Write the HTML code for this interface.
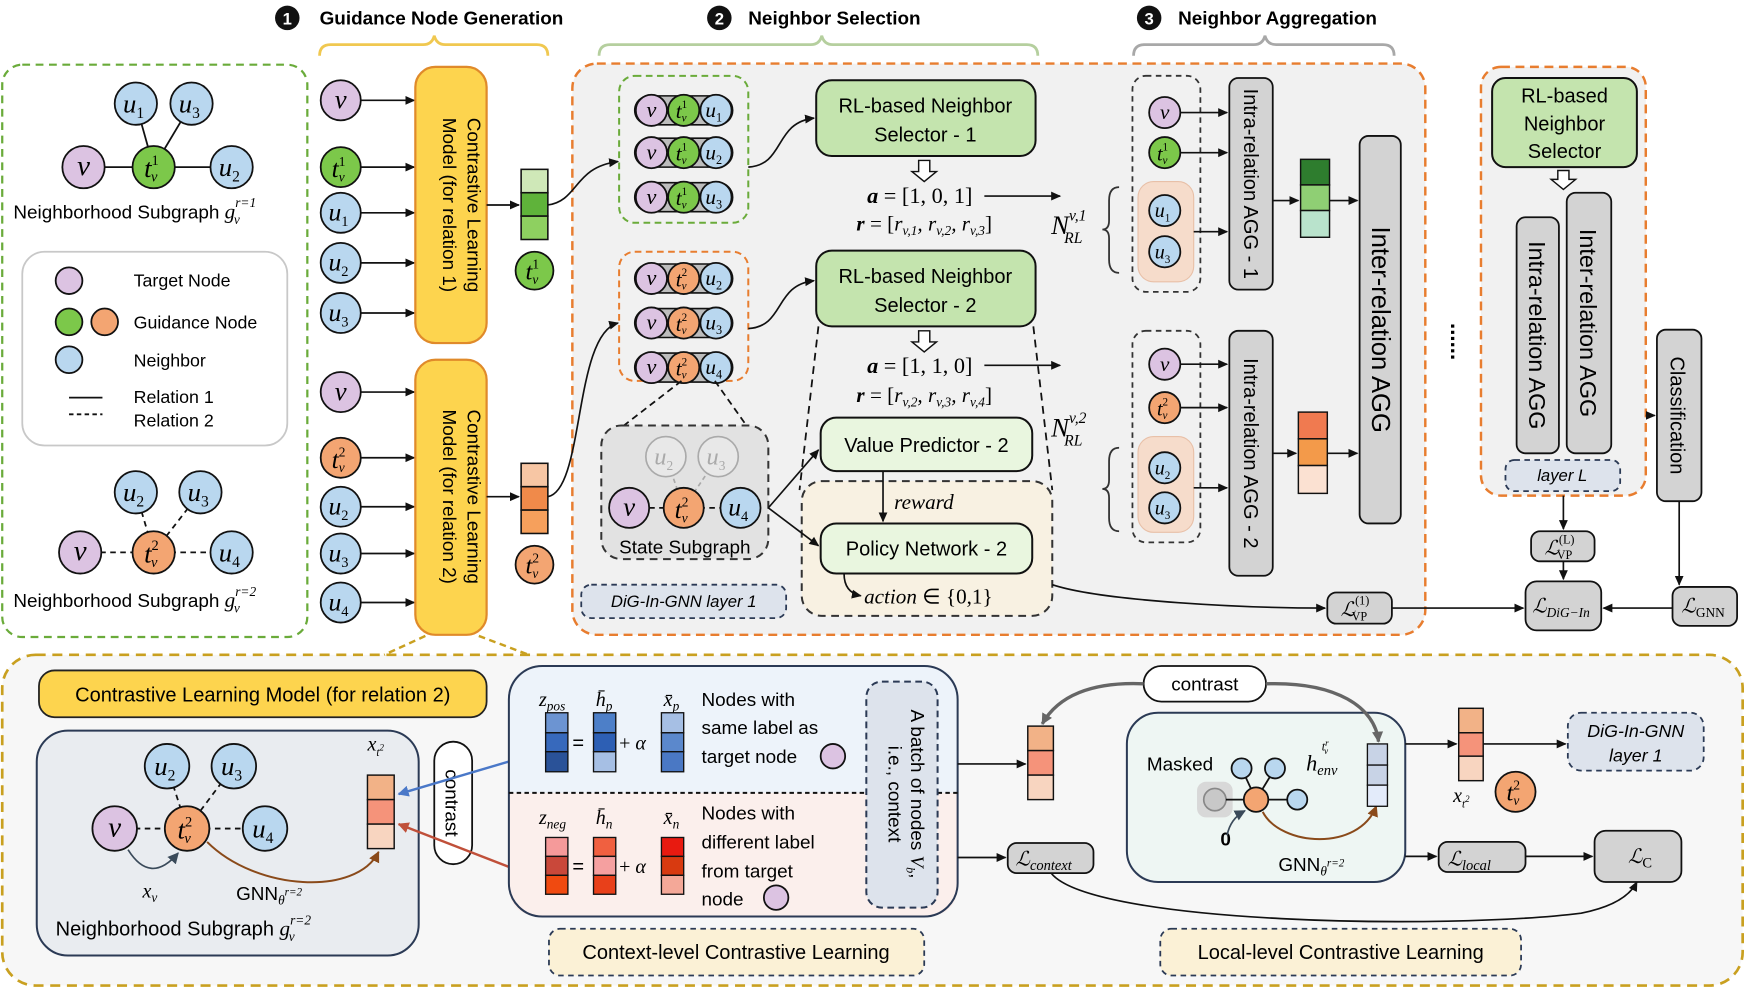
<!DOCTYPE html>
<html><head><meta charset="utf-8"><style>
html,body{margin:0;padding:0;background:#fff}
svg{display:block}
.s{font-family:"Liberation Sans",sans-serif}
.m{font-family:"Liberation Serif",serif;font-style:italic}
</style></head><body>
<svg width="1746" height="989" viewBox="0 0 1568 888" xmlns="http://www.w3.org/2000/svg">
<defs>
<marker id="a" markerWidth="10" markerHeight="10" refX="8" refY="5" orient="auto" markerUnits="userSpaceOnUse"><path d="M0,1 L9,5 L0,9 z" fill="#111"/></marker>
<marker id="ag" markerWidth="12" markerHeight="12" refX="9" refY="6" orient="auto" markerUnits="userSpaceOnUse"><path d="M0,1 L10,6 L0,11 z" fill="#666"/></marker>
<marker id="ab" markerWidth="12" markerHeight="12" refX="9" refY="6" orient="auto" markerUnits="userSpaceOnUse"><path d="M0,1 L10,6 L0,11 z" fill="#4a78c8"/></marker>
<marker id="ar" markerWidth="12" markerHeight="12" refX="9" refY="6" orient="auto" markerUnits="userSpaceOnUse"><path d="M0,1 L10,6 L0,11 z" fill="#c0503a"/></marker>
<marker id="abr" markerWidth="12" markerHeight="12" refX="9" refY="6" orient="auto" markerUnits="userSpaceOnUse"><path d="M0,1 L10,6 L0,11 z" fill="#8a4a1a"/></marker>
<marker id="as" markerWidth="12" markerHeight="12" refX="9" refY="6" orient="auto" markerUnits="userSpaceOnUse"><path d="M0,1 L10,6 L0,11 z" fill="#3a4a5a"/></marker>
</defs>
<style>
.P{fill:#dcc3e2;stroke:#111;stroke-width:1.6}
.G{fill:#7cc84a;stroke:#111;stroke-width:1.6}
.O{fill:#f3a572;stroke:#111;stroke-width:1.6}
.B{fill:#b9d7ef;stroke:#111;stroke-width:1.6}
.ln{stroke:#111;stroke-width:1.6;fill:none}
.ar{stroke:#111;stroke-width:1.5;fill:none;marker-end:url(#a)}
.gb{fill:#d3d3d3;stroke:#111;stroke-width:1.6}
</style>

<!-- Headers -->
<circle cx="258" cy="16" r="11" fill="#111"/><text x="258" y="22" class="s" font-size="15" font-weight="bold" fill="#fff" text-anchor="middle">1</text>
<text x="287" y="22" class="s" font-size="17" font-weight="bold">Guidance Node Generation</text>
<path d="M287,50 Q287,40 297,40 L380,40 Q388,40 390,32 Q392,40 400,40 L482,40 Q492,40 492,50" fill="none" stroke="#f0c850" stroke-width="2.5"/>
<circle cx="646" cy="16" r="11" fill="#111"/><text x="646" y="22" class="s" font-size="15" font-weight="bold" fill="#fff" text-anchor="middle">2</text>
<text x="672" y="22" class="s" font-size="17" font-weight="bold">Neighbor Selection</text>
<path d="M538,50 Q538,40 548,40 L728,40 Q736,40 738,32 Q740,40 748,40 L922,40 Q932,40 932,50" fill="none" stroke="#b5cf9e" stroke-width="2.5"/>
<circle cx="1032" cy="16" r="11" fill="#111"/><text x="1032" y="22" class="s" font-size="15" font-weight="bold" fill="#fff" text-anchor="middle">3</text>
<text x="1058" y="22" class="s" font-size="17" font-weight="bold">Neighbor Aggregation</text>
<path d="M1018,50 Q1018,40 1028,40 L1126,40 Q1134,40 1136,32 Q1138,40 1146,40 L1242,40 Q1252,40 1252,50" fill="none" stroke="#a8a8a8" stroke-width="2.5"/>

<!-- Left green box -->
<rect x="2" y="58" width="274" height="514" rx="18" fill="#fff" stroke="#6aab3a" stroke-width="2" stroke-dasharray="7,5"/>
<g>
<line x1="75" y1="150" x2="208" y2="150" class="ln"/><line x1="122" y1="93" x2="138" y2="150" class="ln"/><line x1="172" y1="93" x2="138" y2="150" class="ln"/>
<circle cx="122" cy="93" r="19" class="B"/><text x="120" y="101" class="m" font-size="24" text-anchor="middle">u<tspan font-size="14" dy="5" font-style="normal">1</tspan></text>
<circle cx="172" cy="93" r="19" class="B"/><text x="170" y="101" class="m" font-size="24" text-anchor="middle">u<tspan font-size="14" dy="5" font-style="normal">3</tspan></text>
<circle cx="75" cy="150" r="19" class="P"/><text x="75" y="157" class="m" font-size="26" text-anchor="middle">v</text>
<circle cx="138" cy="150" r="19" class="G"/><text x="136" y="159" class="m" font-size="24" text-anchor="middle">t<tspan font-size="13" dy="-11" font-style="normal">1</tspan><tspan font-size="13" dx="-7" dy="15">v</tspan></text>
<circle cx="208" cy="150" r="19" class="B"/><text x="206" y="158" class="m" font-size="24" text-anchor="middle">u<tspan font-size="14" dy="5" font-style="normal">2</tspan></text>
<text x="12" y="196" class="s" font-size="17">Neighborhood Subgraph <tspan class="m" font-size="19">g</tspan><tspan class="m" font-size="12" dy="-10">r=1</tspan><tspan class="m" font-size="12" dx="-20" dy="15">v</tspan></text>
</g>
<rect x="20" y="226" width="238" height="174" rx="20" fill="#fff" stroke="#c8c8c8" stroke-width="1.6"/>
<circle cx="62" cy="252" r="12" class="P"/><text x="120" y="257" class="s" font-size="16">Target Node</text>
<circle cx="62" cy="289" r="12" class="G"/><circle cx="94" cy="289" r="12" class="O"/><text x="120" y="295" class="s" font-size="16">Guidance Node</text>
<circle cx="62" cy="323" r="12" class="B"/><text x="120" y="329" class="s" font-size="16">Neighbor</text>
<line x1="62" y1="357" x2="92" y2="357" class="ln"/><line x1="62" y1="372" x2="92" y2="372" class="ln" stroke-dasharray="4,3"/>
<text x="120" y="362" class="s" font-size="16">Relation 1</text><text x="120" y="383" class="s" font-size="16">Relation 2</text>
<g>
<line x1="72" y1="496" x2="208" y2="496" class="ln" stroke-dasharray="5,4"/><line x1="122" y1="442" x2="138" y2="496" class="ln" stroke-dasharray="5,4"/><line x1="180" y1="442" x2="138" y2="496" class="ln" stroke-dasharray="5,4"/>
<circle cx="122" cy="442" r="19" class="B"/><text x="120" y="450" class="m" font-size="24" text-anchor="middle">u<tspan font-size="14" dy="5" font-style="normal">2</tspan></text>
<circle cx="180" cy="442" r="19" class="B"/><text x="178" y="450" class="m" font-size="24" text-anchor="middle">u<tspan font-size="14" dy="5" font-style="normal">3</tspan></text>
<circle cx="72" cy="496" r="19" class="P"/><text x="72" y="503" class="m" font-size="26" text-anchor="middle">v</text>
<circle cx="138" cy="496" r="19" class="O"/><text x="136" y="505" class="m" font-size="24" text-anchor="middle">t<tspan font-size="13" dy="-11" font-style="normal">2</tspan><tspan font-size="13" dx="-7" dy="15">v</tspan></text>
<circle cx="208" cy="496" r="19" class="B"/><text x="206" y="504" class="m" font-size="24" text-anchor="middle">u<tspan font-size="14" dy="5" font-style="normal">4</tspan></text>
<text x="12" y="545" class="s" font-size="17">Neighborhood Subgraph <tspan class="m" font-size="19">g</tspan><tspan class="m" font-size="12" dy="-10">r=2</tspan><tspan class="m" font-size="12" dx="-20" dy="15">v</tspan></text>
</g>

<!-- Input columns -->
<g>
<circle cx="306" cy="90" r="18" class="P"/><text x="306" y="97" class="m" font-size="24" text-anchor="middle">v</text>
<circle cx="306" cy="150" r="18" class="G"/><text x="304" y="159" class="m" font-size="23" text-anchor="middle">t<tspan font-size="12" dy="-10" font-style="normal">1</tspan><tspan font-size="12" dx="-6" dy="14">v</tspan></text>
<circle cx="306" cy="191" r="18" class="B"/><text x="304" y="198" class="m" font-size="23" text-anchor="middle">u<tspan font-size="13" dy="5" font-style="normal">1</tspan></text>
<circle cx="306" cy="236" r="18" class="B"/><text x="304" y="243" class="m" font-size="23" text-anchor="middle">u<tspan font-size="13" dy="5" font-style="normal">2</tspan></text>
<circle cx="306" cy="281" r="18" class="B"/><text x="304" y="288" class="m" font-size="23" text-anchor="middle">u<tspan font-size="13" dy="5" font-style="normal">3</tspan></text>
<line x1="324" y1="90" x2="372" y2="90" class="ar"/><line x1="324" y1="150" x2="372" y2="150" class="ar"/><line x1="324" y1="191" x2="372" y2="191" class="ar"/><line x1="324" y1="236" x2="372" y2="236" class="ar"/><line x1="324" y1="281" x2="372" y2="281" class="ar"/>
<circle cx="306" cy="352" r="18" class="P"/><text x="306" y="359" class="m" font-size="24" text-anchor="middle">v</text>
<circle cx="306" cy="411" r="18" class="O"/><text x="304" y="420" class="m" font-size="23" text-anchor="middle">t<tspan font-size="12" dy="-10" font-style="normal">2</tspan><tspan font-size="12" dx="-6" dy="14">v</tspan></text>
<circle cx="306" cy="455" r="18" class="B"/><text x="304" y="462" class="m" font-size="23" text-anchor="middle">u<tspan font-size="13" dy="5" font-style="normal">2</tspan></text>
<circle cx="306" cy="497" r="18" class="B"/><text x="304" y="504" class="m" font-size="23" text-anchor="middle">u<tspan font-size="13" dy="5" font-style="normal">3</tspan></text>
<circle cx="306" cy="541" r="18" class="B"/><text x="304" y="548" class="m" font-size="23" text-anchor="middle">u<tspan font-size="13" dy="5" font-style="normal">4</tspan></text>
<line x1="324" y1="352" x2="372" y2="352" class="ar"/><line x1="324" y1="411" x2="372" y2="411" class="ar"/><line x1="324" y1="455" x2="372" y2="455" class="ar"/><line x1="324" y1="497" x2="372" y2="497" class="ar"/><line x1="324" y1="541" x2="372" y2="541" class="ar"/>
</g>
<rect x="373" y="60" width="64" height="248" rx="18" fill="#fdd44e" stroke="#e08a2a" stroke-width="2"/>
<text transform="translate(420,184) rotate(90)" class="s" font-size="17" text-anchor="middle">Contrastive Learning</text>
<text transform="translate(398,184) rotate(90)" class="s" font-size="17" text-anchor="middle">Model (for relation 1)</text>
<rect x="373" y="323" width="64" height="247" rx="18" fill="#fdd44e" stroke="#e08a2a" stroke-width="2"/>
<text transform="translate(420,446) rotate(90)" class="s" font-size="17" text-anchor="middle">Contrastive Learning</text>
<text transform="translate(398,446) rotate(90)" class="s" font-size="17" text-anchor="middle">Model (for relation 2)</text>
<line x1="437" y1="184" x2="466" y2="184" class="ar"/><line x1="437" y1="446" x2="466" y2="446" class="ar"/>
<rect x="468" y="152" width="24" height="21" fill="#cfe8b8" stroke="#111" stroke-width="1.4"/><rect x="468" y="173" width="24" height="21" fill="#5fb33a" stroke="#111" stroke-width="1.4"/><rect x="468" y="194" width="24" height="21" fill="#8ed060" stroke="#111" stroke-width="1.4"/>
<circle cx="480" cy="243" r="17" class="G"/><text x="478" y="251" class="m" font-size="22" text-anchor="middle">t<tspan font-size="12" dy="-10" font-style="normal">1</tspan><tspan font-size="12" dx="-6" dy="14">v</tspan></text>
<rect x="468" y="416" width="24" height="21" fill="#f7c6a4" stroke="#111" stroke-width="1.4"/><rect x="468" y="437" width="24" height="21" fill="#f08a4a" stroke="#111" stroke-width="1.4"/><rect x="468" y="458" width="24" height="21" fill="#f6a05c" stroke="#111" stroke-width="1.4"/>
<circle cx="480" cy="507" r="17" class="O"/><text x="478" y="515" class="m" font-size="22" text-anchor="middle">t<tspan font-size="12" dy="-10" font-style="normal">2</tspan><tspan font-size="12" dx="-6" dy="14">v</tspan></text>

<!-- orange big box -->
<rect x="514" y="57" width="766" height="513" rx="22" fill="#f1f1f1" stroke="#e87d2f" stroke-width="2.2" stroke-dasharray="8,5"/>
<path d="M492,184 C520,180 515,150 555,145" class="ar"/>
<path d="M492,446 C525,440 515,300 555,290" class="ar"/>

<!-- group 1 -->
<rect x="556" y="68" width="116" height="132" rx="14" fill="none" stroke="#6aab3a" stroke-width="1.8" stroke-dasharray="6,4"/>
<rect x="570" y="86" width="88" height="26" rx="13" fill="#bdbdbd" stroke="#111" stroke-width="1.4"/>
<circle cx="585" cy="99" r="14" class="P"/><text x="585" y="105" class="m" font-size="20" text-anchor="middle">v</text>
<circle cx="614" cy="99" r="14" class="G"/><text x="612" y="106" class="m" font-size="19" text-anchor="middle">t<tspan font-size="10" dy="-9" font-style="normal">1</tspan><tspan font-size="10" dx="-5" dy="12">v</tspan></text>
<circle cx="643" cy="99" r="14" class="B"/><text x="641" y="105" class="m" font-size="19" text-anchor="middle">u<tspan font-size="11" dy="4" font-style="normal">1</tspan></text>
<rect x="570" y="124" width="88" height="26" rx="13" fill="#bdbdbd" stroke="#111" stroke-width="1.4"/>
<circle cx="585" cy="137" r="14" class="P"/><text x="585" y="143" class="m" font-size="20" text-anchor="middle">v</text>
<circle cx="614" cy="137" r="14" class="G"/><text x="612" y="144" class="m" font-size="19" text-anchor="middle">t<tspan font-size="10" dy="-9" font-style="normal">1</tspan><tspan font-size="10" dx="-5" dy="12">v</tspan></text>
<circle cx="643" cy="137" r="14" class="B"/><text x="641" y="143" class="m" font-size="19" text-anchor="middle">u<tspan font-size="11" dy="4" font-style="normal">2</tspan></text>
<rect x="570" y="164" width="88" height="26" rx="13" fill="#bdbdbd" stroke="#111" stroke-width="1.4"/>
<circle cx="585" cy="177" r="14" class="P"/><text x="585" y="183" class="m" font-size="20" text-anchor="middle">v</text>
<circle cx="614" cy="177" r="14" class="G"/><text x="612" y="184" class="m" font-size="19" text-anchor="middle">t<tspan font-size="10" dy="-9" font-style="normal">1</tspan><tspan font-size="10" dx="-5" dy="12">v</tspan></text>
<circle cx="643" cy="177" r="14" class="B"/><text x="641" y="183" class="m" font-size="19" text-anchor="middle">u<tspan font-size="11" dy="4" font-style="normal">3</tspan></text>

<!-- group 2 -->
<rect x="556" y="226" width="116" height="116" rx="14" fill="none" stroke="#e87d2f" stroke-width="1.8" stroke-dasharray="6,4"/>
<rect x="570" y="237" width="88" height="26" rx="13" fill="#bdbdbd" stroke="#111" stroke-width="1.4"/>
<circle cx="585" cy="250" r="14" class="P"/><text x="585" y="256" class="m" font-size="20" text-anchor="middle">v</text>
<circle cx="614" cy="250" r="14" class="O"/><text x="612" y="257" class="m" font-size="19" text-anchor="middle">t<tspan font-size="10" dy="-9" font-style="normal">2</tspan><tspan font-size="10" dx="-5" dy="12">v</tspan></text>
<circle cx="643" cy="250" r="14" class="B"/><text x="641" y="256" class="m" font-size="19" text-anchor="middle">u<tspan font-size="11" dy="4" font-style="normal">2</tspan></text>
<rect x="570" y="277" width="88" height="26" rx="13" fill="#bdbdbd" stroke="#111" stroke-width="1.4"/>
<circle cx="585" cy="290" r="14" class="P"/><text x="585" y="296" class="m" font-size="20" text-anchor="middle">v</text>
<circle cx="614" cy="290" r="14" class="O"/><text x="612" y="297" class="m" font-size="19" text-anchor="middle">t<tspan font-size="10" dy="-9" font-style="normal">2</tspan><tspan font-size="10" dx="-5" dy="12">v</tspan></text>
<circle cx="643" cy="290" r="14" class="B"/><text x="641" y="296" class="m" font-size="19" text-anchor="middle">u<tspan font-size="11" dy="4" font-style="normal">3</tspan></text>
<rect x="570" y="317" width="88" height="26" rx="13" fill="#bdbdbd" stroke="#111" stroke-width="1.4"/>
<circle cx="585" cy="330" r="14" class="P"/><text x="585" y="336" class="m" font-size="20" text-anchor="middle">v</text>
<circle cx="614" cy="330" r="14" class="O"/><text x="612" y="337" class="m" font-size="19" text-anchor="middle">t<tspan font-size="10" dy="-9" font-style="normal">2</tspan><tspan font-size="10" dx="-5" dy="12">v</tspan></text>
<circle cx="643" cy="330" r="14" class="B"/><text x="641" y="336" class="m" font-size="19" text-anchor="middle">u<tspan font-size="11" dy="4" font-style="normal">4</tspan></text>

<!-- state subgraph -->
<line x1="612" y1="342" x2="550" y2="390" class="ln" stroke-dasharray="6,4"/><line x1="642" y1="342" x2="676" y2="390" class="ln" stroke-dasharray="6,4"/>
<rect x="540" y="382" width="150" height="120" rx="18" fill="#e2e2e2" stroke="#333" stroke-width="1.8" stroke-dasharray="7,5"/>
<line x1="598" y1="410" x2="614" y2="456" stroke="#aaa" stroke-width="1.5" stroke-dasharray="4,3"/><line x1="645" y1="410" x2="614" y2="456" stroke="#aaa" stroke-width="1.5" stroke-dasharray="4,3"/>
<line x1="565" y1="456" x2="665" y2="456" class="ln" stroke-dasharray="5,4"/>
<circle cx="598" cy="410" r="18" fill="#e8e8e8" stroke="#aaa" stroke-width="1.5"/><text x="596" y="417" class="m" font-size="22" fill="#aaa" text-anchor="middle">u<tspan font-size="12" dy="5" font-style="normal">2</tspan></text>
<circle cx="645" cy="410" r="18" fill="#e8e8e8" stroke="#aaa" stroke-width="1.5"/><text x="643" y="417" class="m" font-size="22" fill="#aaa" text-anchor="middle">u<tspan font-size="12" dy="5" font-style="normal">3</tspan></text>
<circle cx="565" cy="456" r="18" class="P"/><text x="565" y="463" class="m" font-size="24" text-anchor="middle">v</text>
<circle cx="614" cy="456" r="18" class="O"/><text x="612" y="465" class="m" font-size="23" text-anchor="middle">t<tspan font-size="12" dy="-10" font-style="normal">2</tspan><tspan font-size="12" dx="-6" dy="14">v</tspan></text>
<circle cx="665" cy="456" r="18" class="B"/><text x="663" y="463" class="m" font-size="23" text-anchor="middle">u<tspan font-size="13" dy="5" font-style="normal">4</tspan></text>
<text x="615" y="497" class="s" font-size="17" text-anchor="middle">State Subgraph</text>
<rect x="522" y="525" width="184" height="30" rx="9" fill="#dde3ec" stroke="#2b3a55" stroke-width="1.6" stroke-dasharray="5,4"/>
<text x="614" y="545" class="s" font-size="15" font-style="italic" text-anchor="middle">DiG-In-GNN layer 1</text>

<!-- RL selectors -->
<path d="M672,150 C705,148 695,110 731,106" class="ar"/>
<path d="M672,295 C705,293 695,256 731,252" class="ar"/>
<rect x="733" y="72" width="197" height="68" rx="14" fill="#c4e4ae" stroke="#111" stroke-width="1.8"/>
<text x="831" y="101" class="s" font-size="18" text-anchor="middle">RL-based Neighbor</text><text x="831" y="127" class="s" font-size="18" text-anchor="middle">Selector - 1</text>
<rect x="733" y="225" width="197" height="68" rx="14" fill="#c4e4ae" stroke="#111" stroke-width="1.8"/>
<text x="831" y="254" class="s" font-size="18" text-anchor="middle">RL-based Neighbor</text><text x="831" y="280" class="s" font-size="18" text-anchor="middle">Selector - 2</text>
<path d="M825,144 h10 v10 h6 l-11,9 l-11,-9 h6 z" fill="#fff" stroke="#111" stroke-width="1.3"/>
<text x="826" y="182" class="m" font-size="20" text-anchor="middle"><tspan font-weight="bold">a</tspan><tspan font-style="normal"> = [1, 0, 1]</tspan></text>
<text x="830" y="207" class="m" font-size="19" text-anchor="middle"><tspan font-weight="bold">r</tspan><tspan font-style="normal"> = [</tspan>r<tspan font-size="12" dy="4">v,1</tspan><tspan dy="-4">, r</tspan><tspan font-size="12" dy="4">v,2</tspan><tspan dy="-4">, r</tspan><tspan font-size="12" dy="4">v,3</tspan><tspan dy="-4" font-style="normal">]</tspan></text>
<line x1="884" y1="176" x2="952" y2="176" class="ar"/>
<path d="M825,297 h10 v10 h6 l-11,9 l-11,-9 h6 z" fill="#fff" stroke="#111" stroke-width="1.3"/>
<text x="826" y="335" class="m" font-size="20" text-anchor="middle"><tspan font-weight="bold">a</tspan><tspan font-style="normal"> = [1, 1, 0]</tspan></text>
<text x="830" y="361" class="m" font-size="19" text-anchor="middle"><tspan font-weight="bold">r</tspan><tspan font-style="normal"> = [</tspan>r<tspan font-size="12" dy="4">v,2</tspan><tspan dy="-4">, r</tspan><tspan font-size="12" dy="4">v,3</tspan><tspan dy="-4">, r</tspan><tspan font-size="12" dy="4">v,4</tspan><tspan dy="-4" font-style="normal">]</tspan></text>
<line x1="884" y1="328" x2="952" y2="328" class="ar"/>
<line x1="735" y1="293" x2="718" y2="440" class="ln" stroke-dasharray="7,5"/><line x1="928" y1="293" x2="945" y2="440" class="ln" stroke-dasharray="7,5"/>
<rect x="720" y="432" width="225" height="121" rx="18" fill="#f8f1e2" stroke="#333" stroke-width="1.8" stroke-dasharray="7,5"/>
<rect x="737" y="375" width="190" height="48" rx="14" fill="#e9f6df" stroke="#111" stroke-width="1.8"/>
<text x="832" y="406" class="s" font-size="18" text-anchor="middle">Value Predictor - 2</text>
<line x1="793" y1="423" x2="793" y2="468" class="ar"/>
<text x="803" y="457" class="m" font-size="19">reward</text>
<rect x="737" y="470" width="190" height="45" rx="14" fill="#e9f6df" stroke="#111" stroke-width="1.8"/>
<text x="832" y="499" class="s" font-size="18" text-anchor="middle">Policy Network - 2</text>
<path d="M758,515 Q758,532 773,535" class="ar"/>
<text x="776" y="542" class="m" font-size="19">action <tspan font-style="normal">∈ {0,1}</tspan></text>
<line x1="690" y1="456" x2="735" y2="404" class="ar"/><line x1="690" y1="456" x2="735" y2="490" class="ar"/>
<path d="M945,525 C990,540 1120,546 1190,546" class="ar"/>

<!-- N_RL labels -->
<text x="944" y="210" class="m" font-size="24" font-family="Liberation Serif">N<tspan font-size="14" dy="-12">v,1</tspan><tspan font-size="14" dx="-20" dy="20">RL</tspan></text>
<path d="M1005,168 Q996,168 996,180 L996,198 Q996,206 990,206 Q996,206 996,214 L996,233 Q996,245 1005,245" fill="none" stroke="#333" stroke-width="1.6"/>
<text x="944" y="392" class="m" font-size="24">N<tspan font-size="14" dy="-12">v,2</tspan><tspan font-size="14" dx="-20" dy="20">RL</tspan></text>
<path d="M1005,402 Q996,402 996,414 L996,431 Q996,439 990,439 Q996,439 996,447 L996,465 Q996,477 1005,477" fill="none" stroke="#333" stroke-width="1.6"/>

<!-- aggregation group 1 -->
<rect x="1017" y="68" width="61" height="194" rx="12" fill="none" stroke="#333" stroke-width="1.6" stroke-dasharray="5,4"/>
<circle cx="1046" cy="101" r="14" class="P"/><text x="1046" y="107" class="m" font-size="19" text-anchor="middle">v</text>
<circle cx="1046" cy="137" r="14" class="G"/><text x="1044" y="144" class="m" font-size="18" text-anchor="middle">t<tspan font-size="10" dy="-9" font-style="normal">1</tspan><tspan font-size="10" dx="-5" dy="12">v</tspan></text>
<rect x="1022" y="163" width="50" height="90" rx="14" fill="#f6dccb" stroke="#e8c0a8" stroke-width="1"/>
<circle cx="1046" cy="189" r="14" class="B"/><text x="1044" y="195" class="m" font-size="18" text-anchor="middle">u<tspan font-size="10" dy="4" font-style="normal">1</tspan></text>
<circle cx="1046" cy="226" r="14" class="B"/><text x="1044" y="232" class="m" font-size="18" text-anchor="middle">u<tspan font-size="10" dy="4" font-style="normal">3</tspan></text>
<line x1="1060" y1="101" x2="1102" y2="101" class="ar"/><line x1="1060" y1="137" x2="1102" y2="137" class="ar"/><line x1="1072" y1="208" x2="1102" y2="208" class="ar"/>
<rect x="1104" y="70" width="39" height="190" rx="8" class="gb"/>
<text transform="translate(1117,165) rotate(90)" class="s" font-size="18" text-anchor="middle">Intra-relation AGG - 1</text>
<line x1="1143" y1="180" x2="1166" y2="180" class="ar"/>
<rect x="1168" y="143" width="26" height="23" fill="#2e7d2e" stroke="#111" stroke-width="1.3"/><rect x="1168" y="166" width="26" height="23" fill="#8fcf74" stroke="#111" stroke-width="1.3"/><rect x="1168" y="189" width="26" height="24" fill="#b9e3cc" stroke="#111" stroke-width="1.3"/>
<line x1="1194" y1="180" x2="1219" y2="180" class="ar"/>

<!-- aggregation group 2 -->
<rect x="1017" y="297" width="61" height="190" rx="12" fill="none" stroke="#333" stroke-width="1.6" stroke-dasharray="5,4"/>
<circle cx="1046" cy="327" r="14" class="P"/><text x="1046" y="333" class="m" font-size="19" text-anchor="middle">v</text>
<circle cx="1046" cy="366" r="14" class="O"/><text x="1044" y="373" class="m" font-size="18" text-anchor="middle">t<tspan font-size="10" dy="-9" font-style="normal">2</tspan><tspan font-size="10" dx="-5" dy="12">v</tspan></text>
<rect x="1022" y="392" width="50" height="86" rx="14" fill="#f6dccb" stroke="#e8c0a8" stroke-width="1"/>
<circle cx="1046" cy="420" r="14" class="B"/><text x="1044" y="426" class="m" font-size="18" text-anchor="middle">u<tspan font-size="10" dy="4" font-style="normal">2</tspan></text>
<circle cx="1046" cy="456" r="14" class="B"/><text x="1044" y="462" class="m" font-size="18" text-anchor="middle">u<tspan font-size="10" dy="4" font-style="normal">3</tspan></text>
<line x1="1060" y1="327" x2="1102" y2="327" class="ar"/><line x1="1060" y1="366" x2="1102" y2="366" class="ar"/><line x1="1072" y1="438" x2="1102" y2="438" class="ar"/>
<rect x="1104" y="297" width="39" height="220" rx="8" class="gb"/>
<text transform="translate(1117,407) rotate(90)" class="s" font-size="18" text-anchor="middle">Intra-relation AGG - 2</text>
<line x1="1143" y1="407" x2="1164" y2="407" class="ar"/>
<rect x="1166" y="370" width="26" height="24" fill="#f07a50" stroke="#111" stroke-width="1.3"/><rect x="1166" y="394" width="26" height="24" fill="#f39a4a" stroke="#111" stroke-width="1.3"/><rect x="1166" y="418" width="26" height="25" fill="#fbe1d2" stroke="#111" stroke-width="1.3"/>
<line x1="1192" y1="407" x2="1219" y2="407" class="ar"/>
<rect x="1221" y="122" width="37" height="348" rx="8" class="gb"/>
<text transform="translate(1232,296) rotate(90)" class="s" font-size="23" text-anchor="middle">Inter-relation AGG</text>

<text x="1303" y="290" class="s" font-size="20" font-weight="bold" transform="rotate(90 1303 290)">......</text>

<!-- right section -->
<rect x="1330" y="60" width="148" height="385" rx="18" fill="#f1f1f1" stroke="#e87d2f" stroke-width="2.2" stroke-dasharray="8,5"/>
<rect x="1340" y="70" width="130" height="80" rx="12" fill="#c4e4ae" stroke="#111" stroke-width="1.8"/>
<text x="1405" y="92" class="s" font-size="18" text-anchor="middle">RL-based</text><text x="1405" y="117" class="s" font-size="18" text-anchor="middle">Neighbor</text><text x="1405" y="142" class="s" font-size="18" text-anchor="middle">Selector</text>
<path d="M1399,153 h10 v8 h6 l-11,9 l-11,-9 h6 z" fill="#fff" stroke="#111" stroke-width="1.3"/>
<rect x="1362" y="195" width="38" height="212" rx="8" class="gb"/>
<text transform="translate(1373,301) rotate(90)" class="s" font-size="21" text-anchor="middle">Intra-relation AGG</text>
<rect x="1407" y="173" width="40" height="234" rx="8" class="gb"/>
<text transform="translate(1419,290) rotate(90)" class="s" font-size="21" text-anchor="middle">Inter-relation AGG</text>
<rect x="1352" y="413" width="103" height="28" rx="8" fill="#dde3ec" stroke="#2b3a55" stroke-width="1.6" stroke-dasharray="5,4"/>
<text x="1403" y="432" class="s" font-size="15" font-style="italic" text-anchor="middle">layer L</text>
<line x1="1478" y1="373" x2="1486" y2="373" class="ar"/>
<rect x="1488" y="296" width="40" height="154" rx="8" class="gb"/>
<text transform="translate(1500,373) rotate(90)" class="s" font-size="18" text-anchor="middle">Classification</text>

<line x1="1404" y1="445" x2="1404" y2="475" class="ar"/>
<rect x="1375" y="477" width="57" height="27" rx="8" class="gb"/>
<text x="1387" y="498" class="m" font-size="18">ℒ<tspan font-size="11" font-style="normal" dy="-10">(L)</tspan><tspan font-size="11" font-style="normal" dx="-16" dy="14">VP</tspan></text>
<line x1="1404" y1="504" x2="1404" y2="520" class="ar"/>
<rect x="1192" y="532" width="58" height="28" rx="8" class="gb"/>
<text x="1204" y="553" class="m" font-size="18">ℒ<tspan font-size="11" font-style="normal" dy="-10">(1)</tspan><tspan font-size="11" font-style="normal" dx="-16" dy="14">VP</tspan></text>
<line x1="1250" y1="546" x2="1368" y2="546" class="ar"/>
<rect x="1370" y="522" width="68" height="44" rx="10" class="gb"/>
<text x="1376" y="550" class="m" font-size="18">ℒ<tspan font-size="12" dy="4">DiG−In</tspan></text>
<line x1="1508" y1="450" x2="1508" y2="525" class="ar"/>
<rect x="1502" y="527" width="58" height="35" rx="8" class="gb"/>
<text x="1510" y="550" class="m" font-size="18">ℒ<tspan font-size="12" font-style="normal" dy="4">GNN</tspan></text>
<line x1="1502" y1="546" x2="1440" y2="546" class="ar"/>

<!-- bottom gold box -->
<rect x="2" y="588" width="1563" height="297" rx="30" fill="#f7f7f7" stroke="#c9a020" stroke-width="2.4" stroke-dasharray="9,6"/>
<line x1="382" y1="571" x2="345" y2="588" stroke="#c9a020" stroke-width="2.2" stroke-dasharray="6,4"/>
<line x1="430" y1="571" x2="475" y2="588" stroke="#c9a020" stroke-width="2.2" stroke-dasharray="6,4"/>
<rect x="35" y="602" width="402" height="42" rx="14" fill="#fdd44e" stroke="#222" stroke-width="1.6"/>
<text x="236" y="630" class="s" font-size="18" text-anchor="middle">Contrastive Learning Model (for relation 2)</text>

<rect x="33" y="656" width="343" height="202" rx="28" fill="#e9ecf0" stroke="#2b3a55" stroke-width="1.8"/>
<line x1="103" y1="744" x2="238" y2="744" class="ln" stroke-dasharray="5,4"/><line x1="150" y1="688" x2="168" y2="744" class="ln" stroke-dasharray="5,4"/><line x1="210" y1="688" x2="168" y2="744" class="ln" stroke-dasharray="5,4"/>
<circle cx="150" cy="688" r="20" class="B"/><text x="148" y="696" class="m" font-size="24" text-anchor="middle">u<tspan font-size="14" dy="5" font-style="normal">2</tspan></text>
<circle cx="210" cy="688" r="20" class="B"/><text x="208" y="696" class="m" font-size="24" text-anchor="middle">u<tspan font-size="14" dy="5" font-style="normal">3</tspan></text>
<circle cx="103" cy="744" r="20" class="P"/><text x="103" y="751" class="m" font-size="26" text-anchor="middle">v</text>
<circle cx="168" cy="744" r="20" class="O"/><text x="166" y="753" class="m" font-size="24" text-anchor="middle">t<tspan font-size="13" dy="-11" font-style="normal">2</tspan><tspan font-size="13" dx="-7" dy="15">v</tspan></text>
<circle cx="238" cy="744" r="20" class="B"/><text x="236" y="752" class="m" font-size="24" text-anchor="middle">u<tspan font-size="14" dy="5" font-style="normal">4</tspan></text>
<path d="M115,763 Q135,795 160,766" fill="none" stroke="#3a4a5a" stroke-width="1.5" marker-end="url(#as)"/>
<text x="128" y="806" class="m" font-size="18">x<tspan font-size="12" dy="4">v</tspan></text>
<path d="M186,756 C230,800 320,805 340,765" fill="none" stroke="#8a4a1a" stroke-width="1.8" marker-end="url(#abr)"/>
<text x="212" y="808" class="s" font-size="17" font-family="Liberation Serif">GNN<tspan class="m" font-size="12" dy="4">θ</tspan><tspan class="m" font-size="10" dy="-8">r=2</tspan></text>
<text x="50" y="840" class="s" font-size="18">Neighborhood Subgraph <tspan class="m" font-size="19">g</tspan><tspan class="m" font-size="12" dy="-10">r=2</tspan><tspan class="m" font-size="12" dx="-20" dy="15">v</tspan></text>

<text x="330" y="674" class="m" font-size="18">x<tspan font-size="10" dy="5">t</tspan><tspan font-size="8" dy="-5">2</tspan></text>
<rect x="330" y="696" width="24" height="22" fill="#f2b287" stroke="#111" stroke-width="1.3"/><rect x="330" y="718" width="24" height="22" fill="#f5937a" stroke="#111" stroke-width="1.3"/><rect x="330" y="740" width="24" height="22" fill="#f8d5c0" stroke="#111" stroke-width="1.3"/>
<rect x="390" y="666" width="34" height="110" rx="17" fill="#fff" stroke="#111" stroke-width="1.6"/>
<text transform="translate(400,721) rotate(90)" class="s" font-size="17" text-anchor="middle">contrast</text>
<line x1="487" y1="675" x2="358" y2="713" stroke="#4a78c8" stroke-width="2.2" marker-end="url(#ab)" marker-start="url(#ab)"/>
<line x1="487" y1="790" x2="358" y2="740" stroke="#c0503a" stroke-width="2.2" marker-end="url(#ar)" marker-start="url(#ar)"/>

<!-- context box -->
<path d="M487,598 H830 Q860,598 860,628 V712 H457 V628 Q457,598 487,598 Z" fill="#edf3fa"/>
<path d="M457,712 H860 V795 Q860,823 830,823 H487 Q457,823 457,795 Z" fill="#fbefec"/>
<rect x="457" y="598" width="403" height="225" rx="30" fill="none" stroke="#2b3a55" stroke-width="1.8"/>
<line x1="457" y1="712" x2="860" y2="712" stroke="#111" stroke-width="1.8" stroke-dasharray="4,3"/>
<text x="484" y="634" class="m" font-size="18">z<tspan font-size="12" dy="4">pos</tspan></text>
<text x="535" y="634" class="m" font-size="18">h̄<tspan font-size="12" dy="4">p</tspan></text>
<text x="596" y="634" class="m" font-size="18">x̄<tspan font-size="12" dy="4">p</tspan></text>
<rect x="490" y="640" width="20" height="18" fill="#6c94d2" stroke="#111" stroke-width="1.2"/><rect x="490" y="658" width="20" height="17" fill="#3769bc" stroke="#111" stroke-width="1.2"/><rect x="490" y="675" width="20" height="18" fill="#2a5298" stroke="#111" stroke-width="1.2"/>
<text x="514" y="673" class="s" font-size="18">=</text>
<rect x="533" y="640" width="20" height="18" fill="#4d7fc8" stroke="#111" stroke-width="1.2"/><rect x="533" y="658" width="20" height="17" fill="#2d5fb4" stroke="#111" stroke-width="1.2"/><rect x="533" y="675" width="20" height="18" fill="#a6bfe4" stroke="#111" stroke-width="1.2"/>
<text x="556" y="673" class="m" font-size="18"><tspan font-style="normal">+</tspan> α</text>
<rect x="594" y="640" width="20" height="18" fill="#a6bfe4" stroke="#111" stroke-width="1.2"/><rect x="594" y="658" width="20" height="17" fill="#5b88cc" stroke="#111" stroke-width="1.2"/><rect x="594" y="675" width="20" height="18" fill="#4a78c4" stroke="#111" stroke-width="1.2"/>
<text x="630" y="634" class="s" font-size="17">Nodes with</text><text x="630" y="659" class="s" font-size="17">same label as</text><text x="630" y="685" class="s" font-size="17">target node</text>
<circle cx="748" cy="679" r="11" class="P"/>
<text x="484" y="740" class="m" font-size="18">z<tspan font-size="12" dy="4">neg</tspan></text>
<text x="535" y="740" class="m" font-size="18">h̄<tspan font-size="12" dy="4">n</tspan></text>
<text x="596" y="740" class="m" font-size="18">x̄<tspan font-size="12" dy="4">n</tspan></text>
<rect x="490" y="752" width="20" height="17" fill="#f59a9a" stroke="#111" stroke-width="1.2"/><rect x="490" y="769" width="20" height="17" fill="#c9483a" stroke="#111" stroke-width="1.2"/><rect x="490" y="786" width="20" height="17" fill="#f04a10" stroke="#111" stroke-width="1.2"/>
<text x="514" y="784" class="s" font-size="18">=</text>
<rect x="533" y="752" width="20" height="17" fill="#f06040" stroke="#111" stroke-width="1.2"/><rect x="533" y="769" width="20" height="17" fill="#f5a0a0" stroke="#111" stroke-width="1.2"/><rect x="533" y="786" width="20" height="17" fill="#e8401a" stroke="#111" stroke-width="1.2"/>
<text x="556" y="784" class="m" font-size="18"><tspan font-style="normal">+</tspan> α</text>
<rect x="594" y="752" width="20" height="17" fill="#e81a10" stroke="#111" stroke-width="1.2"/><rect x="594" y="769" width="20" height="17" fill="#d83a10" stroke="#111" stroke-width="1.2"/><rect x="594" y="786" width="20" height="17" fill="#f4a898" stroke="#111" stroke-width="1.2"/>
<text x="630" y="736" class="s" font-size="17">Nodes with</text><text x="630" y="762" class="s" font-size="17">different label</text><text x="630" y="788" class="s" font-size="17">from target</text><text x="630" y="813" class="s" font-size="17">node</text>
<circle cx="697" cy="806" r="11" class="P"/>
<rect x="778" y="612" width="64" height="203" rx="14" fill="#dde3ec" stroke="#2b3a55" stroke-width="1.8" stroke-dasharray="6,4"/>
<text transform="translate(818,713) rotate(90)" class="s" font-size="17" text-anchor="middle">A batch of nodes <tspan class="m">V</tspan><tspan class="m" font-size="11" dy="4">b</tspan><tspan dy="-4">,</tspan></text>
<text transform="translate(798,713) rotate(90)" class="s" font-size="17" text-anchor="middle">i.e., context</text>
<rect x="493" y="834" width="337" height="42" rx="10" fill="#fbf1d6" stroke="#2b3a55" stroke-width="1.6" stroke-dasharray="5,4"/>
<text x="661" y="861" class="s" font-size="18" text-anchor="middle">Context-level Contrastive Learning</text>

<!-- right bottom -->
<line x1="860" y1="686" x2="921" y2="686" class="ar"/>
<rect x="923" y="652" width="23" height="22" fill="#f2b287" stroke="#111" stroke-width="1.3"/><rect x="923" y="674" width="23" height="22" fill="#f5937a" stroke="#111" stroke-width="1.3"/><rect x="923" y="696" width="23" height="22" fill="#f8d5c0" stroke="#111" stroke-width="1.3"/>
<line x1="860" y1="770" x2="903" y2="770" class="ar"/>
<rect x="905" y="757" width="77" height="27" rx="8" class="gb"/>
<text x="912" y="777" class="m" font-size="18">ℒ<tspan font-size="13" dy="4">context</tspan></text>
<path d="M944,784 C980,830 1300,835 1420,820 Q1460,812 1470,792" class="ar"/>

<rect x="1012" y="640" width="250" height="152" rx="28" fill="#eef6f3" stroke="#2b3a55" stroke-width="1.8"/>
<rect x="1027" y="598" width="110" height="32" rx="16" fill="#fff" stroke="#111" stroke-width="1.6"/>
<text x="1082" y="620" class="s" font-size="17" text-anchor="middle">contrast</text>
<path d="M1027,614 C980,612 950,625 936,650" fill="none" stroke="#666" stroke-width="3" marker-end="url(#ag)"/>
<path d="M1137,614 C1200,612 1235,635 1238,666" fill="none" stroke="#666" stroke-width="3" marker-end="url(#ag)"/>
<text x="1030" y="692" class="s" font-size="17">Masked</text>
<rect x="1075" y="702" width="32" height="32" rx="8" fill="#d8d8d8"/>
<circle cx="1091" cy="718" r="10" fill="#c8c8c8" stroke="#888" stroke-width="1.5"/>
<line x1="1101" y1="718" x2="1165" y2="718" class="ln"/><line x1="1128" y1="718" x2="1115" y2="690" class="ln"/><line x1="1128" y1="718" x2="1145" y2="690" class="ln"/>
<circle cx="1115" cy="690" r="9" class="B"/><circle cx="1145" cy="690" r="9" class="B"/><circle cx="1165" cy="718" r="9" class="B"/>
<circle cx="1128" cy="718" r="11" class="O"/>
<text x="1096" y="759" class="s" font-size="17" font-weight="bold" font-family="Liberation Serif">0</text>
<path d="M1102,750 Q1105,735 1118,728" fill="none" stroke="#3a4a5a" stroke-width="1.5" marker-end="url(#as)"/>
<path d="M1134,729 C1150,760 1220,765 1236,724" fill="none" stroke="#8a4a1a" stroke-width="1.8" marker-end="url(#abr)"/>
<text x="1148" y="782" class="s" font-size="17" font-family="Liberation Serif">GNN<tspan class="m" font-size="12" dy="4">θ</tspan><tspan class="m" font-size="10" dy="-8">r=2</tspan></text>
<text x="1173" y="692" class="m" font-size="20">h<tspan font-size="13" dy="4">env</tspan></text>
<text x="1187" y="674" class="m" font-size="11">t<tspan font-size="8" dy="-4">r</tspan><tspan font-size="8" dx="-4" dy="7">v</tspan></text>
<rect x="1228" y="668" width="18" height="19" fill="#c8d3e6" stroke="#111" stroke-width="1.2"/><rect x="1228" y="687" width="18" height="18" fill="#c8d3e6" stroke="#111" stroke-width="1.2"/><rect x="1228" y="705" width="18" height="19" fill="#e3ebfa" stroke="#111" stroke-width="1.2"/>
<line x1="1262" y1="769" x2="1290" y2="769" class="ar"/>
<line x1="1262" y1="668" x2="1308" y2="668" class="ar"/>
<rect x="1310" y="636" width="22" height="22" fill="#f2b287" stroke="#111" stroke-width="1.3"/><rect x="1310" y="658" width="22" height="21" fill="#f5937a" stroke="#111" stroke-width="1.3"/><rect x="1310" y="679" width="22" height="22" fill="#f8d5c0" stroke="#111" stroke-width="1.3"/>
<line x1="1332" y1="668" x2="1406" y2="668" class="ar"/>
<text x="1305" y="720" class="m" font-size="18">x<tspan font-size="10" dy="5">t</tspan><tspan font-size="8" dy="-5">2</tspan></text>
<circle cx="1361" cy="711" r="18" class="O"/><text x="1359" y="719" class="m" font-size="22" text-anchor="middle">t<tspan font-size="12" dy="-10" font-style="normal">2</tspan><tspan font-size="12" dx="-6" dy="14">v</tspan></text>
<rect x="1408" y="640" width="122" height="52" rx="12" fill="#dde3ec" stroke="#2b3a55" stroke-width="1.6" stroke-dasharray="5,4"/>
<text x="1469" y="662" class="s" font-size="16" font-style="italic" text-anchor="middle">DiG-In-GNN</text><text x="1469" y="684" class="s" font-size="16" font-style="italic" text-anchor="middle">layer 1</text>
<rect x="1292" y="756" width="78" height="27" rx="8" class="gb"/>
<text x="1300" y="777" class="m" font-size="18">ℒ<tspan font-size="13" dy="4">local</tspan></text>
<line x1="1370" y1="769" x2="1430" y2="769" class="ar"/>
<rect x="1432" y="746" width="78" height="46" rx="10" class="gb"/>
<text x="1462" y="775" class="m" font-size="18">ℒ<tspan font-size="13" font-style="normal" dy="4">C</tspan></text>
<rect x="1042" y="834" width="324" height="42" rx="10" fill="#fbf1d6" stroke="#2b3a55" stroke-width="1.6" stroke-dasharray="5,4"/>
<text x="1204" y="861" class="s" font-size="18" text-anchor="middle">Local-level Contrastive Learning</text>
</svg>
</body></html>
